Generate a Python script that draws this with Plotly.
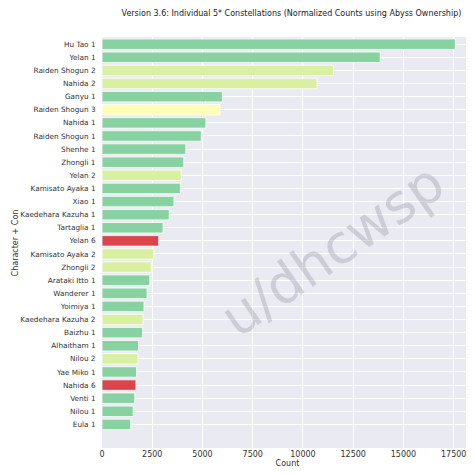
import plotly.graph_objects as go

labels = ["Hu Tao 1","Yelan 1","Raiden Shogun 2","Nahida 2","Ganyu 1","Raiden Shogun 3","Nahida 1",
          "Raiden Shogun 1","Shenhe 1","Zhongli 1","Yelan 2","Kamisato Ayaka 1","Xiao 1","Kaedehara Kazuha 1",
          "Tartaglia 1","Yelan 6","Kamisato Ayaka 2","Zhongli 2","Arataki Itto 1","Wanderer 1","Yoimiya 1",
          "Kaedehara Kazuha 2","Baizhu 1","Alhaitham 1","Nilou 2","Yae Miko 1","Nahida 6","Venti 1","Nilou 1","Eula 1"]
counts = [17580,13840,11510,10700,5990,5870,5170,4940,4170,4070,3940,3900,3580,3340,3040,2820,2580,2450,
          2380,2240,2090,2040,2020,1820,1790,1720,1690,1630,1550,1430]
cons = [1,1,2,2,1,3,1,1,1,1,2,1,1,1,1,6,2,2,1,1,1,2,1,1,2,1,6,1,1,1]
xticks = [0,2500,5000,7500,10000,12500,15000,17500]
con_colors = {1:"#88d1a1",2:"#d9f0a3",3:"#fefdb8",6:"#da444c"}

fig = go.Figure(go.Bar(x=counts, y=list(range(len(labels))), orientation="h",
                       marker=dict(color=[con_colors[c] for c in cons], line=dict(color="white", width=0.8)),
                       width=0.8))
fig.update_layout(
    width=474, height=474, paper_bgcolor="white", plot_bgcolor="#eaeaf2",
    margin=dict(l=94, r=9, t=29, b=34, autoexpand=False), showlegend=False,
    font=dict(family="DejaVu Sans", size=8, color="#333"),
    title=dict(text="Version 3.6: Individual 5* Constellations (Normalized Counts using Abyss Ownership)",
               x=0.598, xanchor="center", y=0.995, yanchor="top", font=dict(size=8, color="#222")),
    xaxis=dict(range=[0, 18460], tickvals=xticks, ticktext=[str(v) for v in xticks], automargin=False,
               gridcolor="white", zeroline=False, title=dict(text="Count", standoff=2, font=dict(size=8)), ticks=""),
    yaxis=dict(range=[30.8, -0.55], tickvals=list(range(len(labels))), ticktext=labels, automargin=False,
               tickfont=dict(size=7.3),
               gridcolor="white", zeroline=False, ticks="outside", ticklen=4, tickcolor="rgba(0,0,0,0)"),
    annotations=[
        dict(text="u/dhcwsp", x=0.62, y=0.48, xref="paper", yref="paper", showarrow=False,
             textangle=-35, font=dict(size=54, color="rgba(150,150,165,0.35)", family="DejaVu Sans")),
        dict(text="Character + Con", x=-0.232, y=0.5, xref="paper", yref="paper", xanchor="center",
             showarrow=False, textangle=-90, font=dict(size=8, color="#333")),
    ]
)
fig.write_html("out.html")
